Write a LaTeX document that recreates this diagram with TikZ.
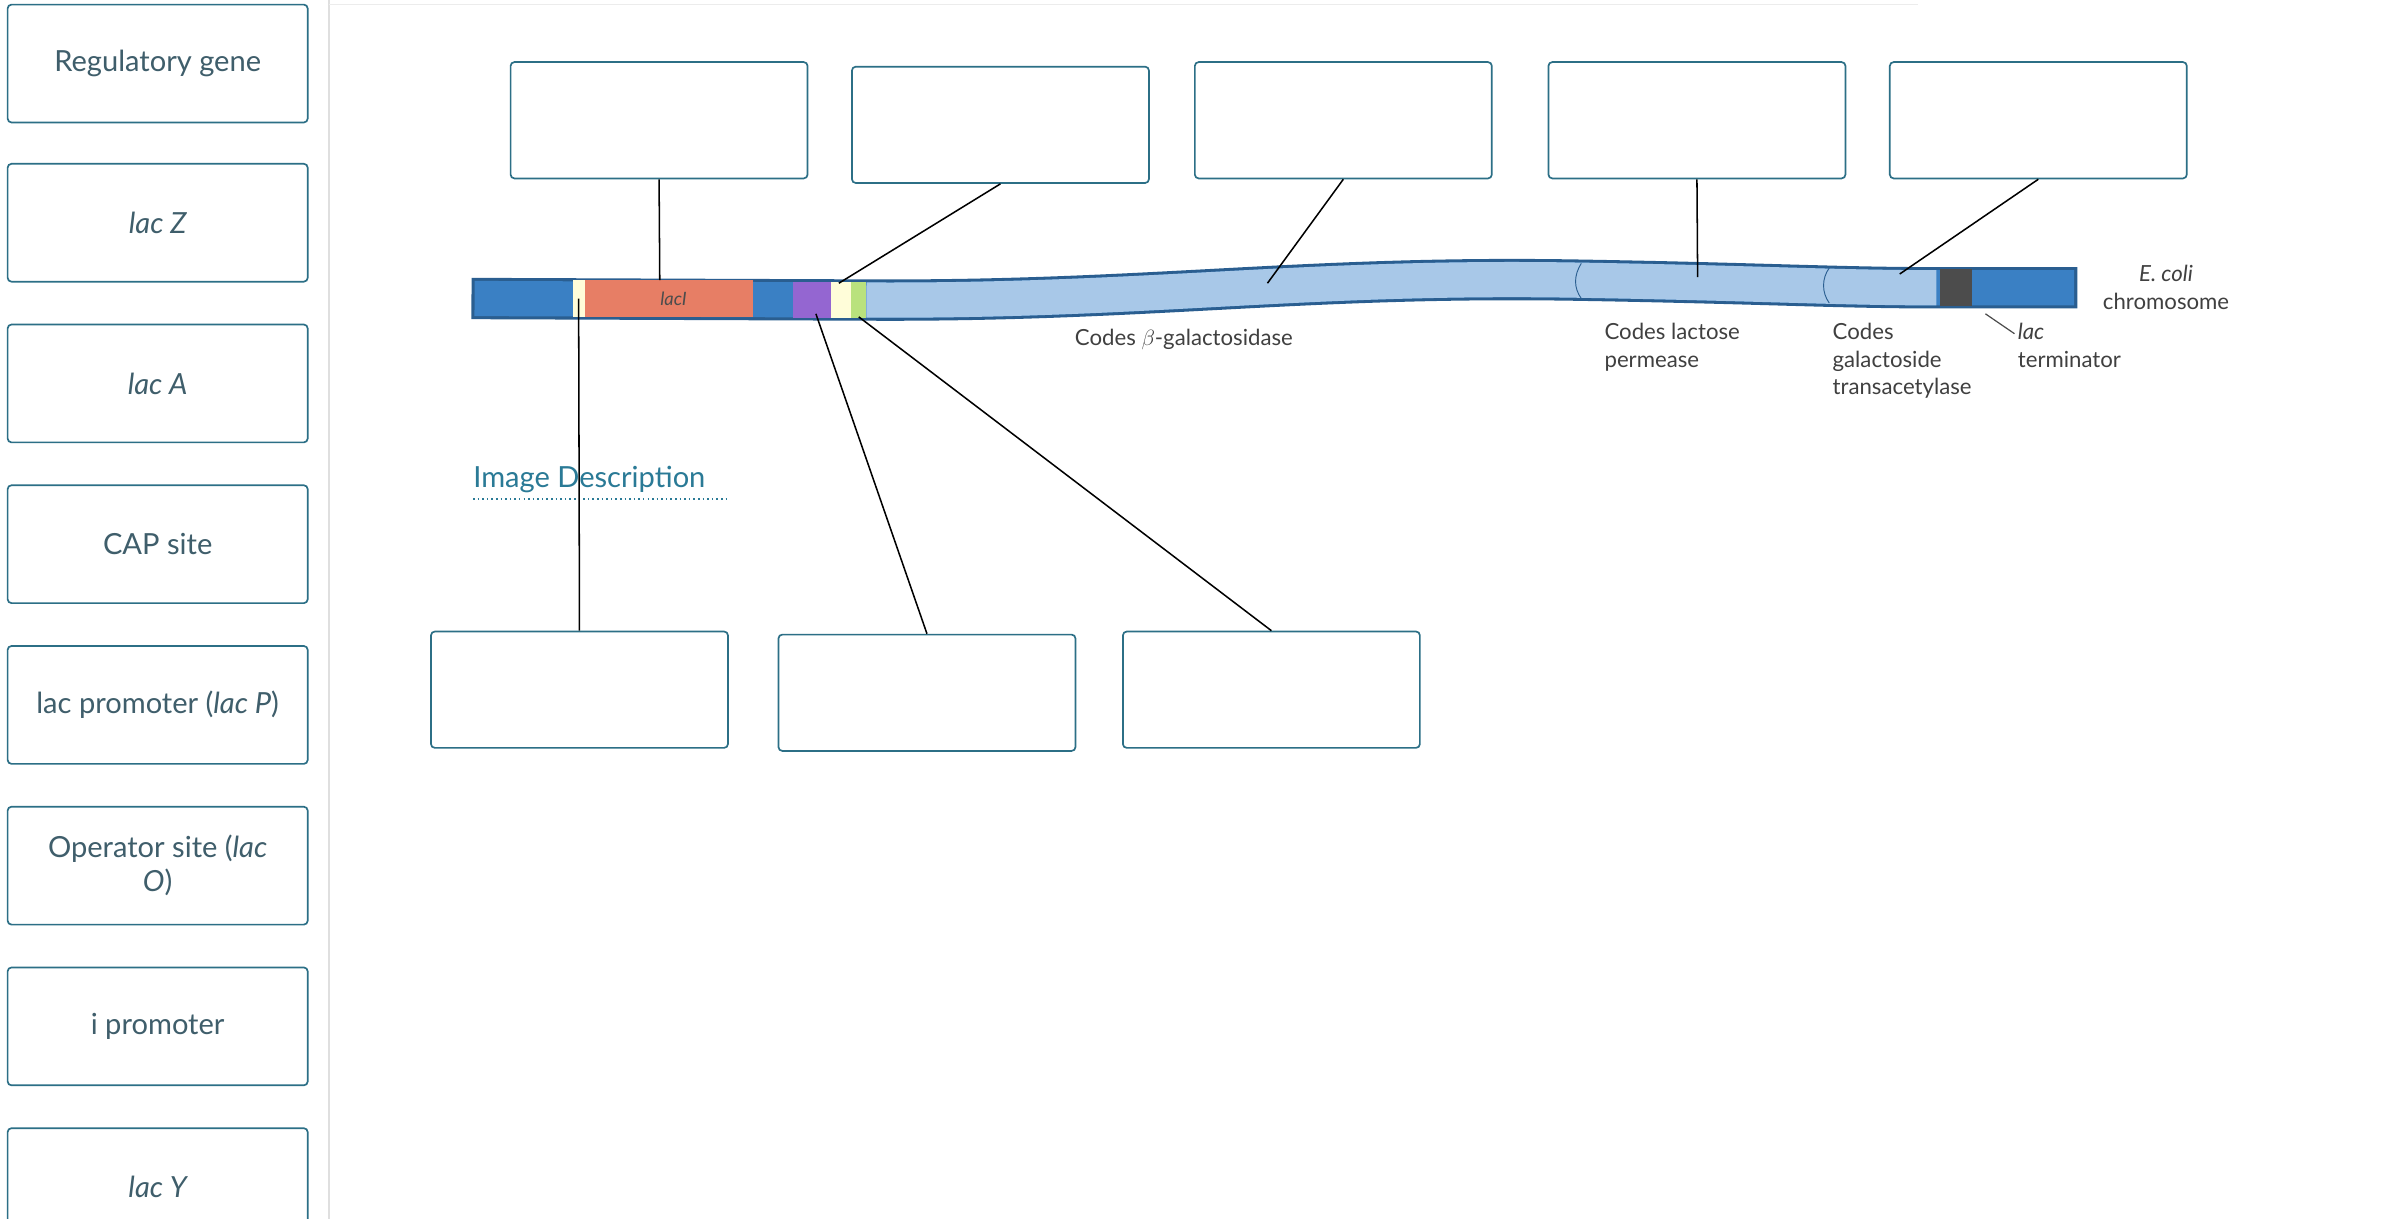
\documentclass[tikz,border=0pt]{standalone}
\usepackage{fontspec}
\setmainfont{Lato}
\begin{document}
\begin{tikzpicture}[x=1pt,y=-1pt,
  box/.style={draw=boxc,line width=1.1pt,rounded corners=2.5pt},
  lbl/.style={text=txtc,font=\fontsize{19}{22}\selectfont,align=center},
  dl/.style={text=black!75,font=\fontsize{14.5}{18}\selectfont,align=left,anchor=north west,inner sep=0},
  con/.style={black,line width=1pt}]
\definecolor{boxc}{HTML}{2C6F86}
\definecolor{txtc}{HTML}{3F5E6B}
\definecolor{chb}{HTML}{3A80C4}
\definecolor{chl}{HTML}{A8C8E8}
\definecolor{chd}{HTML}{2A5E90}
\definecolor{link}{HTML}{2A7A96}
\useasboundingbox[fill=white] (0,0) rectangle (1560,796);
\draw[gray!25,line width=1pt] (215,0) -- (215,796);
\draw[gray!15,line width=1pt] (215,3) -- (1253,3);
% left column
\foreach \t/\y/\n in {{Regulatory gene}/3/L1,{\itshape lac Z}/107/L2,{\itshape lac A}/212/L3,{CAP site}/317/L4,{lac promoter (\textit{lac P})}/422/L5,{Operator site (\textit{lac}\\\textit{O})}/527/L6,{i promoter}/632/L7,{\itshape lac Y}/737/L8}
  {\draw[box] (5,\y) rectangle (201,\y+77);
   \node[lbl] (\n) at (103,\y+38.5) {\t};}
% chromosome
\draw[chd,line width=27pt] (308,195) -- (566,196) .. controls (750,197) and (850,180) .. (1030,183) .. controls (1150,185) and (1200,188) .. (1265,188) -- (1357,188);
\draw[chb,line width=23pt] (310,195) -- (566,196) .. controls (750,197) and (850,180) .. (1030,183) .. controls (1150,185) and (1200,188) .. (1265,188) -- (1355,188);
\draw[chl,line width=23pt] (566,196) .. controls (750,197) and (850,180) .. (1030,183) .. controls (1150,185) and (1200,188) .. (1265,188);
\fill[white!85!yellow] (374,183) rectangle (382,207);
\fill[red!45!brown!70!white] (382,183) rectangle (492,207);
\fill[violet!60!blue!60!white] (518,184) rectangle (543,208);
\fill[yellow!15!white] (543,184) rectangle (556,208);
\fill[yellow!50!green!55!white] (556,184) rectangle (566,208);
\fill[black!70] (1267,176) rectangle (1288,200);
\draw[chd,line width=0.6pt] (1033,172) .. controls (1028,180) and (1028,188) .. (1033,195);
\draw[chd,line width=0.6pt] (1195,175) .. controls (1190,182) and (1190,191) .. (1195,198);
\node[font=\itshape\fontsize{12}{14}\selectfont,text=black!70] (lacI) at (440,195) {lacI};
\node[dl] (t1) at (702,215) {Codes \(\beta\)-galactosidase};
\node[dl] (t2) at (1048,211) {Codes lactose\\permease};
\node[dl] (t3) at (1197,211) {Codes\\galactoside\\transacetylase};
\node[dl] (t4) at (1318,211) {\textit{lac}\\terminator};
\node[dl,align=center,anchor=north] (t5) at (1415,173) {\textit{E. coli}\\chromosome};
\coordinate (lt) at (1297,205); \coordinate (lt2) at (1316,218);
\draw[black!70,line width=0.8pt] (lt) -- (lt2);
\node[text=link,font=\fontsize{19}{22}\selectfont,anchor=west,inner sep=0] (img) at (309,313) {Image Description};
\draw[link,dotted,line width=1pt] (309,326) -- (476,326);
% answer boxes
\foreach \x/\y/\n in {333/40/A,556/43/B,780/40/C,1011/40/D,1234/40/E,281/412/F,508/414/G,733/412/H}
  {\node[box,minimum width=194pt,minimum height=76pt,anchor=north west,inner sep=0] (\n) at (\x,\y) {};}
\coordinate (a) at (431,183); \coordinate (b) at (548,185); \coordinate (c) at (828,185);
\coordinate (d) at (1109,181); \coordinate (e) at (1241,179);
\coordinate (f) at (378,195); \coordinate (g) at (533,205); \coordinate (h) at (561,207);
\draw[con] (A.south) -- (a);
\draw[con] (B.south) -- (b);
\draw[con] (C.south) -- (c);
\draw[con] (D.south) -- (d);
\draw[con] (E.south) -- (e);
\draw[con] (F.north) -- (f);
\draw[con] (G.north) -- (g);
\draw[con] (H.north) -- (h);
\end{tikzpicture}
\end{document}
